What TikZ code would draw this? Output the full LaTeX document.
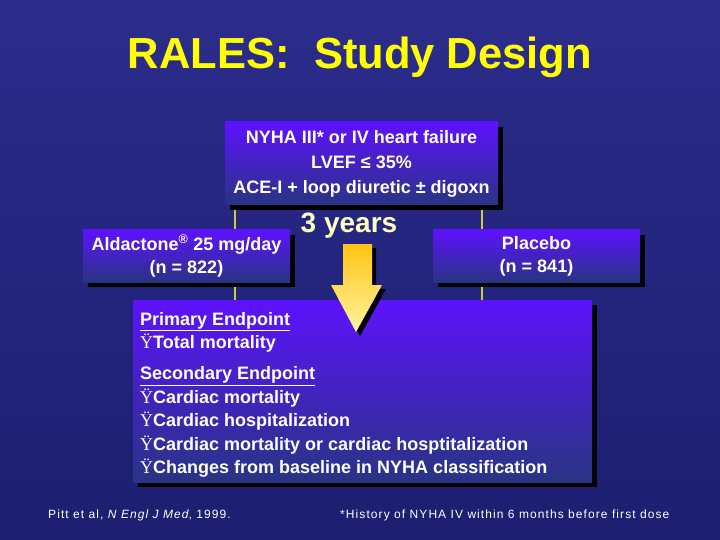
\documentclass[tikz,border=0pt]{standalone}
\usepackage{fontspec}
\setmainfont{Liberation Sans}
\newfontfamily\serifY{Liberation Serif}
\newfontfamily\footfont[LetterSpace=9]{Liberation Sans}
\usetikzlibrary{shadows}
\pgfdeclarelayer{back}
\pgfdeclarelayer{lines}
\pgfsetlayers{back,lines,main}
\definecolor{bgtop}{RGB}{44,44,140}
\definecolor{bgbot}{RGB}{28,30,112}
\definecolor{boxtop}{RGB}{94,18,252}
\definecolor{boxbot}{RGB}{40,52,132}
\definecolor{titleyellow}{RGB}{255,255,0}
\definecolor{lineyellow}{RGB}{205,205,60}
\definecolor{yearscol}{RGB}{255,255,190}
\definecolor{arrtop}{RGB}{255,196,20}
\definecolor{arrbot}{RGB}{255,245,160}
\tikzset{
  box/.style={inner sep=2pt, top color=boxtop, bottom color=boxbot, draw=none,
    text=white, font=\bfseries\fontsize{18}{25}\selectfont, align=center,
    drop shadow={shadow xshift=5pt, shadow yshift=-5pt, opacity=1, fill=black}},
  conn/.style={draw=lineyellow, line width=2.5pt},
  foot/.style={anchor=west, text=white, font=\footfont\fontsize{12}{14}\selectfont, inner sep=0pt}
}
\newcommand{\bul}{{\serifY\mdseries Ÿ}}
\begin{document}
\begin{tikzpicture}[x=1pt,y=-1pt]
\useasboundingbox (0,0) rectangle (720,540);
\begin{pgfonlayer}{back}
\shade[top color=bgtop, bottom color=bgbot] (0,0) rectangle (720,540);
\end{pgfonlayer}
\node[text=titleyellow, font=\bfseries\fontsize{43.5}{48}\selectfont] (title) at (360,57) {RALES:\ \ Study Design};
\coordinate (lx) at (235,0);
\coordinate (rx) at (482,0);
\node[box, minimum width=273pt, minimum height=83pt] (top) at (361.5,163.5)
  {NYHA III* or IV heart failure\\LVEF ≤ 35\%\\ACE-I + loop diuretic ± digoxn};
\node[box, minimum width=459pt, minimum height=182pt] (big) at (362.5,391) {};
\begin{pgfonlayer}{lines}
\draw[conn] (top.south -| lx) -- (big.north -| lx);
\draw[conn] (top.south -| rx) -- (big.north -| rx);
\end{pgfonlayer}
\node[box, minimum width=207pt, minimum height=52pt, font=\bfseries\fontsize{18}{23}\selectfont] (ald) at (186.5,256)
  {Aldactone\textsuperscript{\textregistered} 25 mg/day\\(n = 822)};
\node[box, minimum width=207pt, minimum height=52pt, font=\bfseries\fontsize{18}{23}\selectfont] (pla) at (536.5,256)
  {Placebo\\(n = 841)};
% arrow
\fill[black] (347,248) -- (376,248) -- (376,289) -- (386,289) -- (360,336) -- (335,289) -- (347,289) -- cycle;
\shade[top color=arrtop, bottom color=arrbot] (343,244) -- (372,244) -- (372,285) -- (382,285) -- (356,332) -- (331,285) -- (343,285) -- cycle;
\node[text=yearscol, font=\bfseries\fontsize{28}{30}\selectfont] (years) at (349,226) {3 years};
% big box text
\node[anchor=north west, text=white, align=left, inner sep=0pt,
  font=\bfseries\fontsize{18}{23.5}\selectfont] (bigtext) at (140,312)
  {\underline{Primary Endpoint}\\
   \bul Total mortality\\[7.5pt]
   \underline{Secondary Endpoint}\\
   \bul Cardiac mortality\\
   \bul Cardiac hospitalization\\
   \bul Cardiac mortality or cardiac hosptitalization\\
   \bul Changes from baseline in NYHA classification};
\node[foot] (ref) at (48,515) {Pitt et al, \textit{N Engl J Med}, 1999.};
\node[foot] (note) at (340,515) {*History of NYHA IV within 6 months before first dose};
\end{tikzpicture}
\end{document}
